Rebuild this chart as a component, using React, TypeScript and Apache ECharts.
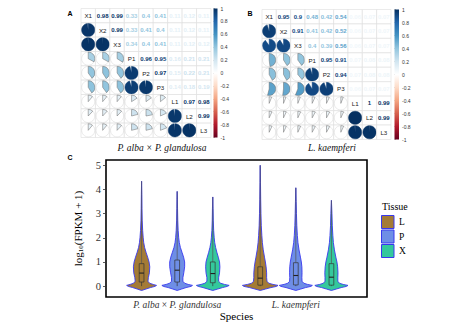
import React, { useEffect, useRef } from 'react';
import * as echarts from 'echarts';

// ---------- Correlation matrices (panels A, B) ----------
const corrLabels = ['X1', 'X2', 'X3', 'P1', 'P2', 'P3', 'L1', 'L2', 'L3'];

const corrA = [
  [1, 0.98, 0.99, 0.33, 0.4, 0.41, 0.11, 0.12, 0.11],
  [0.98, 1, 0.99, 0.33, 0.41, 0.4, 0.11, 0.12, 0.11],
  [0.99, 0.99, 1, 0.34, 0.4, 0.41, 0.11, 0.12, 0.12],
  [0.33, 0.33, 0.34, 1, 0.96, 0.95, 0.16, 0.21, 0.21],
  [0.4, 0.41, 0.4, 0.96, 1, 0.97, 0.15, 0.22, 0.21],
  [0.41, 0.4, 0.41, 0.95, 0.97, 1, 0.14, 0.18, 0.19],
  [0.11, 0.11, 0.11, 0.16, 0.15, 0.14, 1, 0.97, 0.98],
  [0.12, 0.12, 0.12, 0.21, 0.22, 0.18, 0.97, 1, 0.99],
  [0.11, 0.11, 0.12, 0.21, 0.21, 0.19, 0.98, 0.99, 1],
];

const corrB = [
  [1, 0.95, 0.9, 0.48, 0.42, 0.54, 0.06, 0.07, 0.07],
  [0.95, 1, 0.91, 0.41, 0.42, 0.52, 0.06, 0.07, 0.07],
  [0.9, 0.91, 1, 0.4, 0.39, 0.56, 0.06, 0.07, 0.07],
  [0.48, 0.41, 0.4, 1, 0.95, 0.91, 0.07, 0.08, 0.08],
  [0.42, 0.42, 0.39, 0.95, 1, 0.94, 0.07, 0.08, 0.08],
  [0.54, 0.52, 0.56, 0.91, 0.94, 1, 0.06, 0.07, 0.07],
  [0.06, 0.06, 0.06, 0.07, 0.07, 0.06, 1, 1, 0.99],
  [0.07, 0.07, 0.07, 0.08, 0.08, 0.07, 1, 1, 0.99],
  [0.07, 0.07, 0.07, 0.08, 0.08, 0.07, 0.99, 0.99, 1],
];

const rdbuPalette = ['#67001F', '#B2182B', '#D6604D', '#F4A582', '#FDDBC7', '#FFFFFF', '#D1E5F0', '#92C5DE', '#4393C3', '#2166AC', '#053061'];

const matrixTitles = ['P. alba × P. glandulosa', 'L. kaempferi'];

// ---------- Violin plot (panel C) ----------
const tissues = ['L', 'P', 'X'];
const yTicks = [0, 1, 2, 3, 4, 5];

// [log10(FPKM+1), relative half-width]
const violinL_Pa = [[-0.18, 0], [-0.12, 0.25], [-0.06, 0.5], [-0.01, 0.75], [0.03, 0.84], [0.07, 0.65], [0.12, 0.45], [0.2, 0.36], [0.35, 0.38], [0.55, 0.44], [0.8, 0.46], [1.0, 0.42], [1.2, 0.34], [1.4, 0.25], [1.6, 0.17], [1.8, 0.12], [2.0, 0.09], [2.3, 0.06], [2.7, 0.035], [3.2, 0.022], [3.8, 0.013], [4.34, 0]];
const violinP_Pa = [[-0.18, 0], [-0.12, 0.25], [-0.06, 0.5], [-0.01, 0.78], [0.03, 0.86], [0.07, 0.62], [0.12, 0.42], [0.2, 0.32], [0.35, 0.32], [0.55, 0.37], [0.8, 0.42], [1.0, 0.42], [1.2, 0.36], [1.4, 0.27], [1.6, 0.18], [1.8, 0.12], [2.0, 0.085], [2.3, 0.055], [2.7, 0.033], [3.2, 0.02], [3.6, 0.012], [3.92, 0]];
const violinX_Pa = [[-0.18, 0], [-0.12, 0.28], [-0.06, 0.55], [-0.01, 0.82], [0.03, 0.92], [0.07, 0.66], [0.12, 0.44], [0.2, 0.33], [0.35, 0.33], [0.55, 0.38], [0.8, 0.4], [1.0, 0.38], [1.2, 0.31], [1.4, 0.23], [1.6, 0.16], [1.8, 0.11], [2.0, 0.08], [2.3, 0.05], [2.7, 0.03], [3.2, 0.018], [3.69, 0]];
const violinL_Lk = [[-0.18, 0], [-0.12, 0.3], [-0.06, 0.6], [-0.01, 0.92], [0.03, 1.0], [0.07, 0.72], [0.12, 0.48], [0.2, 0.38], [0.35, 0.36], [0.55, 0.36], [0.8, 0.33], [1.0, 0.29], [1.2, 0.24], [1.5, 0.17], [1.8, 0.12], [2.1, 0.09], [2.5, 0.06], [3.0, 0.04], [3.6, 0.025], [4.3, 0.014], [5.0, 0]];
const violinP_Lk = [[-0.18, 0], [-0.12, 0.28], [-0.06, 0.55], [-0.01, 0.85], [0.03, 0.93], [0.07, 0.66], [0.12, 0.45], [0.2, 0.35], [0.35, 0.34], [0.55, 0.35], [0.8, 0.34], [1.0, 0.31], [1.2, 0.26], [1.5, 0.18], [1.8, 0.12], [2.1, 0.085], [2.5, 0.055], [3.0, 0.035], [3.5, 0.02], [4.07, 0]];
const violinX_Lk = [[-0.18, 0], [-0.12, 0.28], [-0.06, 0.55], [-0.01, 0.85], [0.03, 0.93], [0.07, 0.66], [0.12, 0.45], [0.2, 0.36], [0.35, 0.36], [0.55, 0.37], [0.8, 0.35], [1.0, 0.31], [1.2, 0.25], [1.5, 0.17], [1.8, 0.11], [2.1, 0.08], [2.5, 0.05], [3.0, 0.03], [3.55, 0]];

// [Q1, median, Q3, max]
const boxL = [[0.17, 0.54, 0.93, 4.34], [0.04, 0.33, 0.8, 5.0]];
const boxP = [[0.17, 0.66, 1.08, 3.92], [0.05, 0.44, 0.97, 4.07]];
const boxX = [[0.14, 0.52, 1.0, 3.69], [0.04, 0.37, 0.93, 3.55]];

const violinProfiles = [[violinL_Pa, violinL_Lk], [violinP_Pa, violinP_Lk], [violinX_Pa, violinX_Lk]];
const boxStats = [boxL, boxP, boxX];

const tissueFill = ['#a47b35', '#6e8ee6', '#34c89c'];
const outlineBlue = '#3838ee';
const SERIF = '"Liberation Serif", "DejaVu Serif", serif';
const SANS = '"Liberation Sans", Arial, sans-serif';

function hexToRgb(h: string) {
  return [parseInt(h.slice(1, 3), 16), parseInt(h.slice(3, 5), 16), parseInt(h.slice(5, 7), 16)];
}
function corrColor(v: number) {
  const t = ((v + 1) / 2) * 10;
  const i = Math.max(0, Math.min(9, Math.floor(t)));
  const f = t - i;
  const a = hexToRgb(rdbuPalette[i]);
  const b = hexToRgb(rdbuPalette[i + 1]);
  const c = a.map((x, k) => Math.round(x + (b[k] - x) * f));
  return `rgb(${c[0]},${c[1]},${c[2]})`;
}
function fmt(v: number) {
  return String(Number(v.toFixed(2)));
}

function matrixSeries(corr: number[][], gi: number) {
  const data: number[][] = [];
  corr.forEach((row, i) => row.forEach((v, j) => data.push([j, i, v])));
  return {
    type: 'custom',
    xAxisIndex: gi,
    yAxisIndex: gi,
    silent: true,
    data,
    renderItem: (params: any, api: any) => {
      const j = api.value(0);
      const i = api.value(1);
      const v = api.value(2);
      const c = api.coord([j, i]);
      const s = api.size([1, 1]);
      const w = s[0];
      const h = s[1];
      const children: any[] = [
        {
          type: 'rect',
          shape: { x: c[0] - w / 2, y: c[1] - h / 2, width: w, height: h },
          style: { fill: '#fff', stroke: '#dedede', lineWidth: 0.6 },
        },
      ];
      if (i === j) {
        children.push({
          type: 'text',
          x: c[0],
          y: c[1],
          style: {
            text: corrLabels[i], fill: '#222', fontSize: 6.2, fontFamily: SANS,
            align: 'center', verticalAlign: 'middle', textAlign: 'center', textVerticalAlign: 'middle',
          },
        });
      } else if (j > i) {
        children.push({
          type: 'text',
          x: c[0],
          y: c[1],
          style: {
            text: fmt(v), fill: corrColor(v), fontSize: 6, fontWeight: 'bold', fontFamily: SANS,
            align: 'center', verticalAlign: 'middle', textAlign: 'center', textVerticalAlign: 'middle',
          },
        });
      } else {
        const r = Math.min(w, h) * 0.46;
        children.push({
          type: 'circle',
          shape: { cx: c[0], cy: c[1], r },
          style: { fill: 'none', stroke: '#d4d4d4', lineWidth: 0.5 },
        });
        children.push({
          type: 'sector',
          shape: {
            cx: c[0], cy: c[1], r, r0: 0,
            startAngle: -Math.PI / 2,
            endAngle: -Math.PI / 2 + 2 * Math.PI * v,
            clockwise: true,
          },
          style: { fill: corrColor(v), stroke: v > 0.8 ? corrColor(v) : '#6a6a6a', lineWidth: 0.5 },
        });
      }
      return { type: 'group', children };
    },
  };
}

function colorbarSeries(gi: number) {
  return {
    type: 'custom',
    xAxisIndex: gi,
    yAxisIndex: gi,
    silent: true,
    data: [[0, 0]],
    renderItem: (params: any, api: any) => {
      const p0 = api.coord([0, 1]);
      const p1 = api.coord([1, -1]);
      const stops = rdbuPalette.slice().reverse().map((col, k) => ({ offset: k / 10, color: col }));
      return {
        type: 'rect',
        shape: { x: p0[0], y: p0[1], width: p1[0] - p0[0], height: p1[1] - p0[1] },
        style: { fill: new echarts.graphic.LinearGradient(0, 0, 0, 1, stops) },
      };
    },
  };
}

const tissueOffsets = [-0.3, 0, 0.3];
const maxHalf = 0.15;
const boxHalf = 0.02;

function violinSeries(t: number) {
  return {
    type: 'custom',
    name: tissues[t],
    xAxisIndex: 4,
    yAxisIndex: 4,
    silent: true,
    itemStyle: { color: tissueFill[t] },
    data: [[1, 0], [2, 1]],
    renderItem: (params: any, api: any) => {
      const sp = api.value(1);
      const xc = api.value(0) + tissueOffsets[t];
      const prof = violinProfiles[t][sp];
      const st = boxStats[t][sp];
      const pts: number[][] = [];
      for (const [y, w] of prof) pts.push(api.coord([xc - w * maxHalf, y]));
      for (let k = prof.length - 1; k >= 0; k--) pts.push(api.coord([xc + prof[k][1] * maxHalf, prof[k][0]]));
      const bTL = api.coord([xc - boxHalf, st[2]]);
      const bBR = api.coord([xc + boxHalf, st[0]]);
      const mL = api.coord([xc - boxHalf, st[1]]);
      const mR = api.coord([xc + boxHalf, st[1]]);
      const top = api.coord([xc, st[3]]);
      const q3 = api.coord([xc, st[2]]);
      const q1 = api.coord([xc, st[0]]);
      const zero = api.coord([xc, 0]);
      return {
        type: 'group',
        children: [
          { type: 'polygon', shape: { points: pts }, style: { fill: tissueFill[t], stroke: outlineBlue, lineWidth: 0.9 } },
          { type: 'line', shape: { x1: top[0], y1: top[1], x2: q3[0], y2: q3[1] }, style: { stroke: '#555', lineWidth: 0.7 } },
          { type: 'line', shape: { x1: q1[0], y1: q1[1], x2: zero[0], y2: zero[1] }, style: { stroke: '#333', lineWidth: 0.7 } },
          { type: 'rect', shape: { x: bTL[0], y: bTL[1], width: bBR[0] - bTL[0], height: bBR[1] - bTL[1] }, style: { fill: tissueFill[t], stroke: '#333', lineWidth: 0.7 } },
          { type: 'line', shape: { x1: mL[0], y1: mL[1], x2: mR[0], y2: mR[1] }, style: { stroke: '#222', lineWidth: 1.1 } },
        ],
      };
    },
  };
}

function catAxes(gi: number) {
  return {
    x: { gridIndex: gi, type: 'category', data: corrLabels, show: false },
    y: { gridIndex: gi, type: 'category', data: corrLabels, inverse: true, show: false },
  };
}
function barAxes(gi: number) {
  return {
    x: { gridIndex: gi, type: 'value', min: 0, max: 1, show: false },
    y: {
      gridIndex: gi, type: 'value', min: -1, max: 1, interval: 0.2, position: 'right',
      axisLine: { show: false },
      axisTick: { show: true, length: 1.5, lineStyle: { color: '#777', width: 0.5 } },
      splitLine: { show: false },
      axisLabel: { fontSize: 5, fontFamily: SANS, color: '#333', margin: 3, formatter: (v: number) => String(Math.round(v * 10) / 10) },
    },
  };
}

export default function App() {
  const ref = useRef<HTMLDivElement>(null);
  useEffect(() => {
    if (!ref.current) return;
    const chart = echarts.init(ref.current, null, { renderer: 'svg' });
    const a0 = catAxes(0), a1 = barAxes(1), a2 = catAxes(2), a3 = barAxes(3);
    const option: any = {
      animation: false,
      backgroundColor: '#fff',
      grid: [
        { left: 81, top: 8.5, width: 130, height: 129 },
        { left: 213.5, top: 8.5, width: 4, height: 129 },
        { left: 262, top: 9.5, width: 129, height: 130 },
        { left: 394.5, top: 9.5, width: 4.5, height: 130 },
        { left: 106, top: 160, width: 261, height: 137, show: true, borderColor: '#000', borderWidth: 1.6, backgroundColor: '#fff' },
      ],
      xAxis: [
        a0.x, a1.x, a2.x, a3.x,
        {
          gridIndex: 4, type: 'value', min: 0.4, max: 2.6,
          axisLine: { show: false },
          splitLine: { show: false },
          axisTick: { show: true, customValues: [1, 2], length: 3, lineStyle: { color: '#333', width: 0.8 } },
          axisLabel: {
            customValues: [1, 2], margin: 3, fontFamily: SERIF, fontSize: 9.5, color: '#333',
            formatter: (v: number) => (v === 1 ? '{i|P. alba} × {i|P. glandulosa}' : v === 2 ? '{i|L. kaempferi}' : ''),
            rich: { i: { fontStyle: 'italic', fontFamily: SERIF, fontSize: 9.5, color: '#333' } },
          },
          name: 'Species', nameLocation: 'middle', nameGap: 13,
          nameTextStyle: { fontFamily: SERIF, fontSize: 11, color: '#000' },
        },
      ],
      yAxis: [
        a0.y, a1.y, a2.y, a3.y,
        {
          gridIndex: 4, type: 'value', min: -0.45, max: 5.22,
          axisLine: { show: false },
          splitLine: { show: false },
          axisTick: { show: true, customValues: yTicks, length: 3, lineStyle: { color: '#333', width: 0.8 } },
          axisLabel: { customValues: yTicks, margin: 5, fontFamily: SERIF, fontSize: 10.5, color: '#333' },
          name: '{a|log}{b|10}{a|(FPKM + 1)}', nameLocation: 'middle', nameGap: 14, nameRotate: 90,
          nameTextStyle: {
            fontFamily: SERIF, fontSize: 11, color: '#000',
            rich: {
              a: { fontFamily: SERIF, fontSize: 11, color: '#000', lineHeight: 13 },
              b: { fontFamily: SERIF, fontSize: 7, color: '#000', lineHeight: 7, verticalAlign: 'bottom' },
            },
          },
        },
      ],
      legend: {
        orient: 'vertical', left: 381, top: 215, padding: 0,
        itemWidth: 12.5, itemHeight: 13, itemGap: 0.5,
        selectedMode: false,
        textStyle: { fontFamily: SERIF, fontSize: 9.5, color: '#000' },
        data: tissues.map((t, i) => ({
          name: t, icon: 'rect',
          itemStyle: { color: tissueFill[i], borderColor: outlineBlue, borderWidth: 1 },
        })),
      },
      graphic: {
        elements: [
          { type: 'text', x: 70, y: 13, style: { text: 'A', fill: '#000', font: `bold 7px ${SANS}`, textAlign: 'center', textVerticalAlign: 'middle', align: 'center', verticalAlign: 'middle' } },
          { type: 'text', x: 250, y: 13.5, style: { text: 'B', fill: '#000', font: `bold 7px ${SANS}`, textAlign: 'center', textVerticalAlign: 'middle', align: 'center', verticalAlign: 'middle' } },
          { type: 'text', x: 70, y: 157, style: { text: 'C', fill: '#000', font: `bold 7px ${SANS}`, textAlign: 'center', textVerticalAlign: 'middle', align: 'center', verticalAlign: 'middle' } },
          { type: 'text', x: 162, y: 148, style: { text: matrixTitles[0], fill: '#111', font: `italic 9.5px ${SERIF}`, textAlign: 'center', textVerticalAlign: 'middle', align: 'center', verticalAlign: 'middle' } },
          { type: 'text', x: 332, y: 148, style: { text: matrixTitles[1], fill: '#111', font: `italic 9.5px ${SERIF}`, textAlign: 'center', textVerticalAlign: 'middle', align: 'center', verticalAlign: 'middle' } },
          { type: 'text', x: 382, y: 206, style: { text: 'Tissue', fill: '#000', font: `10px ${SERIF}`, textAlign: 'left', textVerticalAlign: 'middle', align: 'left', verticalAlign: 'middle' } },
        ],
      },
      series: [
        matrixSeries(corrA, 0),
        colorbarSeries(1),
        matrixSeries(corrB, 2),
        colorbarSeries(3),
        violinSeries(0),
        violinSeries(1),
        violinSeries(2),
      ],
    };
    chart.setOption(option);
    return () => chart.dispose();
  }, []);
  return <div ref={ref} style={{ position: 'absolute', left: 0, top: 0, width: 474, height: 330, background: '#fff' }} />;
}
